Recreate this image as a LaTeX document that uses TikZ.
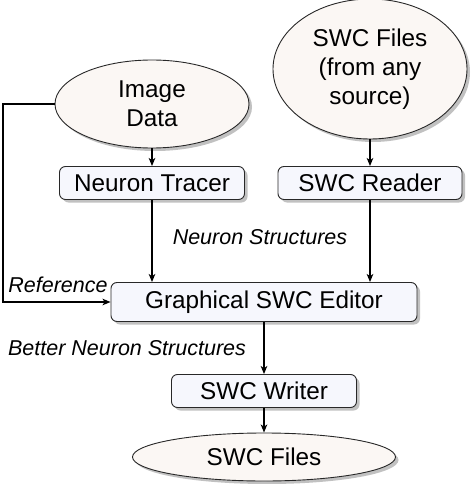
\documentclass[tikz,border=0pt]{standalone}
\usepackage{fontspec}
\setmainfont{Liberation Sans}
\usetikzlibrary{shapes.geometric,shadows,arrows.meta,calc}
\definecolor{ellfill}{RGB}{251,247,244}
\definecolor{boxfill}{RGB}{246,247,253}
\definecolor{edge}{RGB}{40,40,40}
\tikzset{
  shadowed/.style={drop shadow={shadow xshift=3pt,shadow yshift=-3pt,fill=black!30,opacity=0.8}},
  ellnode/.style={ellipse,draw=edge,line width=0.9pt,fill=ellfill,inner sep=0pt,align=center,
    font=\fontsize{24.3}{29}\selectfont,shadowed},
  boxnode/.style={rectangle,rounded corners=6pt,draw=edge,line width=0.9pt,fill=boxfill,inner sep=0pt,
    align=center,font=\fontsize{24.3}{29}\selectfont,shadowed},
  lbl/.style={font=\fontsize{21.5}{26}\selectfont\itshape,inner sep=0pt},
  arr/.style={draw=black,line width=1.3pt,-{Stealth[length=8pt,width=6.5pt,inset=2pt]}},
}
\begin{document}
\begin{tikzpicture}[x=1pt,y=-1pt]
\useasboundingbox (0,0) rectangle (474,484);
\node[ellnode,minimum width=194pt,minimum height=88pt] (img) at (152,104) {Image\\Data};
\node[ellnode,minimum width=194pt,minimum height=140pt] (swcin) at (370,69) {SWC Files\\(from any\\source)};
\node[boxnode,minimum width=185pt,minimum height=33pt] (tracer) at (152,183) {Neuron Tracer};
\node[boxnode,minimum width=184pt,minimum height=33pt] (reader) at (370,183) {SWC Reader};
\node[boxnode,minimum width=306pt,minimum height=39pt] (editor) at (264,302) {Graphical SWC Editor};
\node[boxnode,minimum width=185pt,minimum height=33pt] (writer) at (264,391) {SWC Writer};
\node[ellnode,minimum width=263pt,minimum height=48pt] (files) at (264,457) {SWC Files};
\coordinate (refbend) at (3,104);
\draw[arr] (img.south) -- (tracer.north);
\draw[arr] (swcin.south) -- (reader.north);
\draw[arr] (tracer.south) -- (tracer.south |- editor.north);
\draw[arr] (reader.south) -- (reader.south |- editor.north);
\draw[arr] (img.west) -- (refbend) |- (editor.west);
\draw[arr] (editor.south) -- (writer.north);
\draw[arr] (writer.south) -- (files.north);
\node[lbl] (lns) at (260,237) {Neuron Structures};
\node[lbl] (lref) at (58,285) {Reference};
\node[lbl] (lbns) at (127,348) {Better Neuron Structures};
\end{tikzpicture}
\end{document}
